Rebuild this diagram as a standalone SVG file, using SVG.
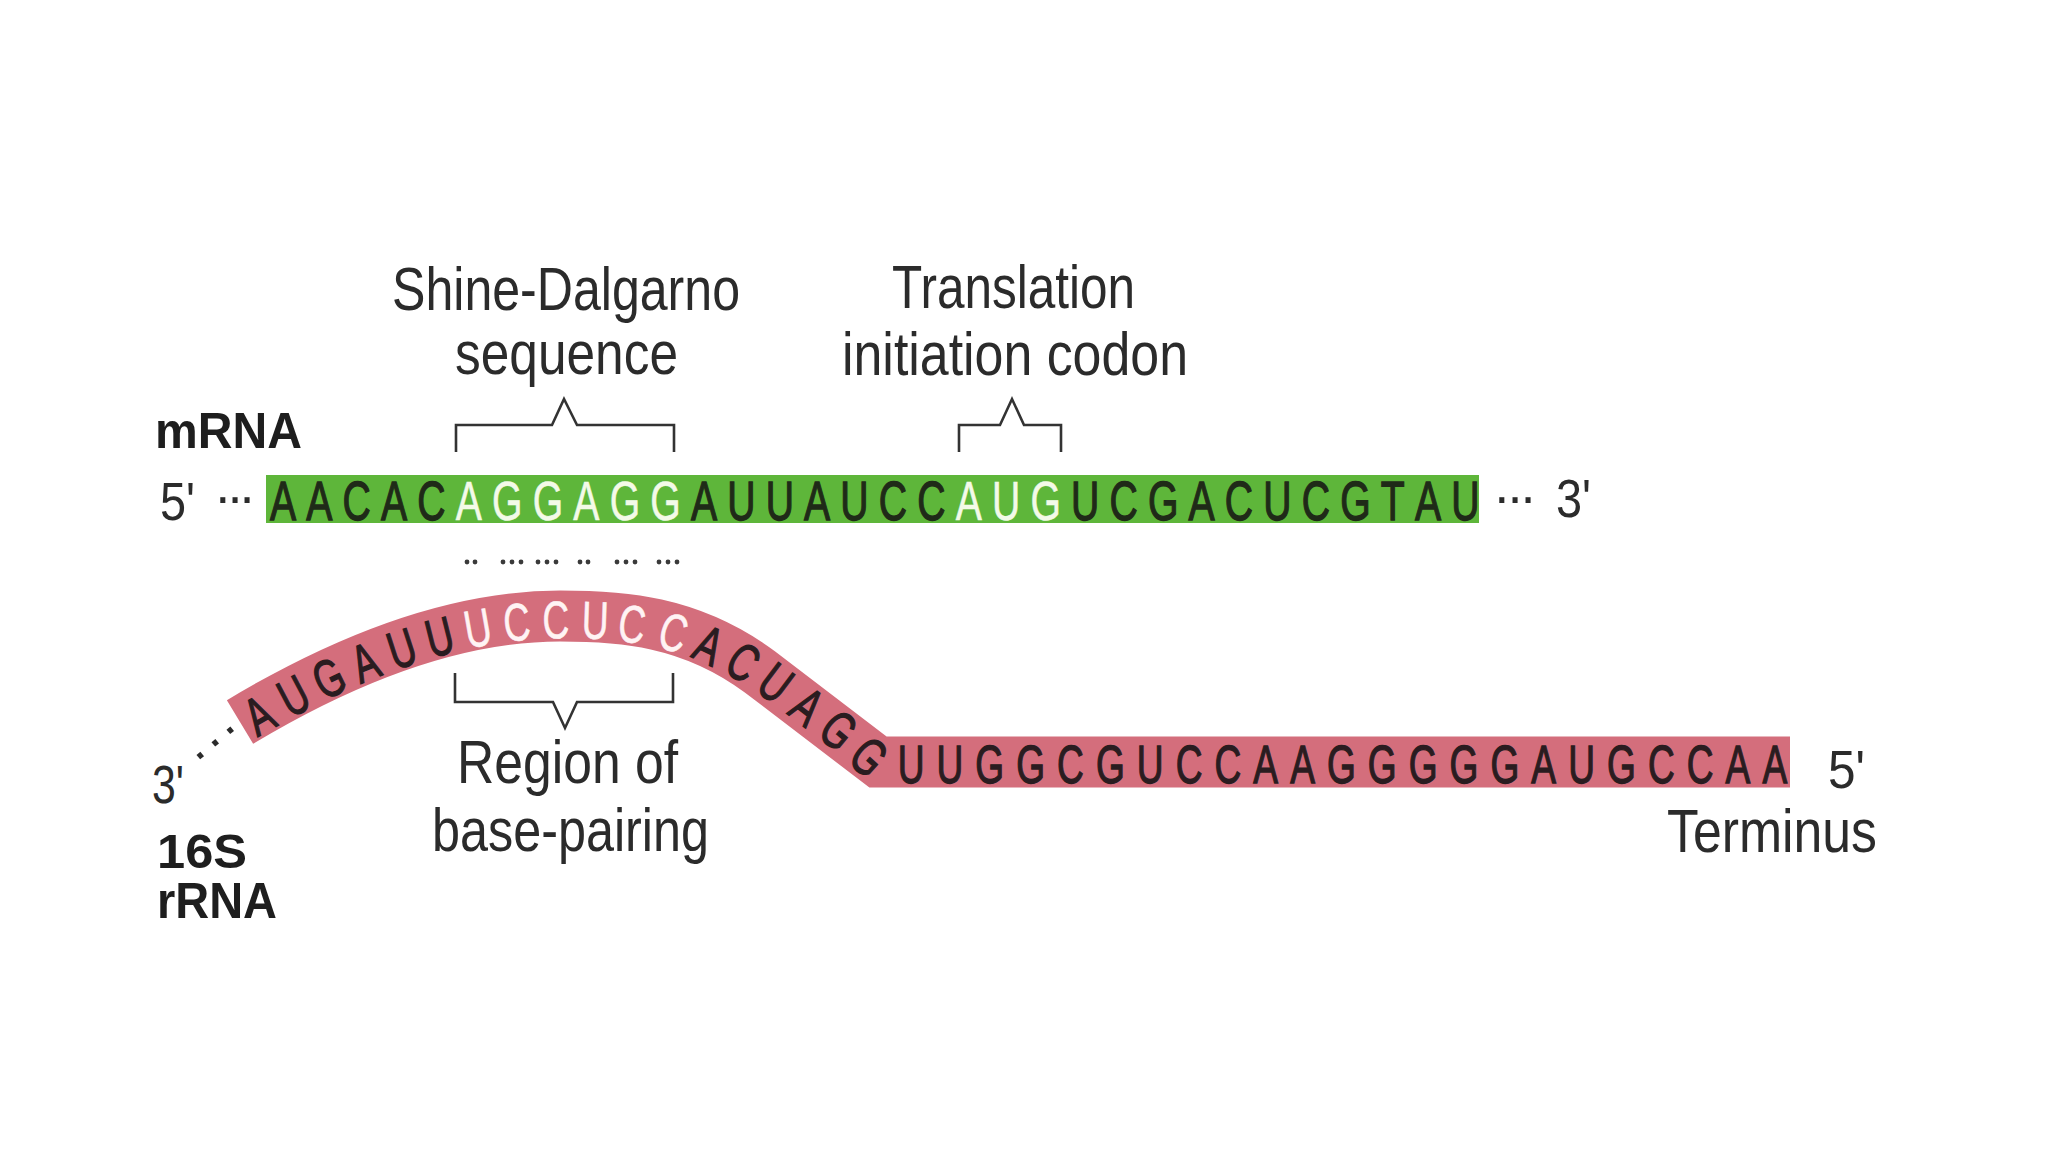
<svg xmlns="http://www.w3.org/2000/svg" width="2048" height="1152" viewBox="0 0 2048 1152">
<style>
  text { font-family: "Liberation Sans", Arial, sans-serif; fill: #2b2b2b; }
  .lbl { font-size: 61px; }
  .prime { font-size: 53px; }
  .bold { font-weight: bold; fill: #1e1e1e; }
  .seq { font-size: 56px; text-anchor: middle; fill: #1f2a18; stroke: #1f2a18; stroke-width: 1.3; }
  .seqp { font-size: 53px; text-anchor: middle; fill: #2a1c20; stroke: #2a1c20; stroke-width: 1.3; }
  .wg { fill: #f3fae8; stroke: #f3fae8; stroke-width: 0.6; }
  .wp { fill: #fff3f4; stroke: #fff3f4; stroke-width: 0.6; }
  .brk { fill: none; stroke: #333; stroke-width: 2.6; stroke-linejoin: miter; }
  .dot { fill: #3a3a3a; }
</style>
<rect width="2048" height="1152" fill="#ffffff"/>

<!-- labels -->
<g id="label-sd">
  <text class="lbl" x="392" y="310" textLength="348" lengthAdjust="spacingAndGlyphs">Shine-Dalgarno</text>
  <text class="lbl" x="455" y="374" textLength="223" lengthAdjust="spacingAndGlyphs">sequence</text>
</g>
<g id="label-tic">
  <text class="lbl" x="892" y="308" textLength="243" lengthAdjust="spacingAndGlyphs">Translation</text>
  <text class="lbl" x="842" y="375" textLength="346" lengthAdjust="spacingAndGlyphs">initiation codon</text>
</g>
<g id="label-region">
  <text class="lbl" x="457" y="783" textLength="221" lengthAdjust="spacingAndGlyphs">Region of</text>
  <text class="lbl" x="432" y="851" textLength="277" lengthAdjust="spacingAndGlyphs">base-pairing</text>
</g>
<g id="label-terminus">
  <text class="prime" x="1828" y="788" textLength="37" lengthAdjust="spacingAndGlyphs">5'</text>
  <text class="lbl" x="1667" y="852" textLength="210" lengthAdjust="spacingAndGlyphs">Terminus</text>
</g>

<!-- mRNA -->
<g id="mrna">
  <text class="bold" x="155" y="448" font-size="50" textLength="147" lengthAdjust="spacingAndGlyphs">mRNA</text>
  <text class="prime" x="160" y="520" textLength="35" lengthAdjust="spacingAndGlyphs">5'</text>
  <text class="prime" x="214" y="515" textLength="42" lengthAdjust="spacing">···</text>
  <rect x="266" y="475" width="1213" height="48" fill="#5eb63a"/>
  <text class="seq" y="520" transform="scale(0.7 1)" x="404.4 456.3 509.6 563.0 616.4 669.7 724.7 782.7 837.7 892.7 950.7 1005.7 1059.0 1114.0 1167.3 1220.7 1275.6 1330.6 1383.9 1437.3 1493.9 1550.3 1605.1 1661.7 1716.6 1770.0 1824.9 1879.9 1936.3 1989.7 2040.0 2093.3">AACAC<tspan class="wg">AGGAGG</tspan>AUUAUCC<tspan class="wg">AUG</tspan>UCGACUCGTAU</text>
  <text class="prime" x="1493" y="515" textLength="44" lengthAdjust="spacing">···</text>
  <text class="prime" x="1556" y="517" textLength="35" lengthAdjust="spacingAndGlyphs">3'</text>
</g>

<!-- 16S rRNA -->
<g id="rrna">
  <path d="M240 722 C340 662 450 616 560 616 C620 616 690 620 760 672 L878 762 L1790 762" fill="none" stroke="#d46e7c" stroke-width="51" stroke-linejoin="miter" stroke-miterlimit="10" stroke-linecap="butt"/>
  <text class="seqp" transform="translate(257.3 712.0) rotate(-30) scale(0.7 1)" y="22">A</text>
  <text class="seqp" transform="translate(292.0 692.8) rotate(-28) scale(0.7 1)" y="22">U</text>
  <text class="seqp" transform="translate(327.4 675.0) rotate(-26) scale(0.7 1)" y="22">G</text>
  <text class="seqp" transform="translate(363.7 659.0) rotate(-22) scale(0.7 1)" y="22">A</text>
  <text class="seqp" transform="translate(400.7 645.1) rotate(-18) scale(0.7 1)" y="22">U</text>
  <text class="seqp" transform="translate(438.6 633.5) rotate(-14) scale(0.7 1)" y="22">U</text>
  <text class="seqp wp" transform="translate(477.1 624.6) rotate(-10) scale(0.7 1)" y="22">U</text>
  <text class="seqp wp" transform="translate(516.3 618.6) rotate(-5) scale(0.7 1)" y="22">C</text>
  <text class="seqp wp" transform="translate(555.8 616.2) rotate(-1) scale(0.7 1)" y="22">C</text>
  <text class="seqp wp" transform="translate(595.4 616.7) rotate(2) scale(0.7 1)" y="22">U</text>
  <text class="seqp wp" transform="translate(632.7 620.6) rotate(8) scale(0.7 1)" y="22">C</text>
  <text class="seqp wp" transform="translate(674.4 629.0) rotate(16) scale(0.7 1)" y="22">C</text>
  <text class="seqp" transform="translate(710.4 641.8) rotate(25) scale(0.7 1)" y="22">A</text>
  <text class="seqp" transform="translate(745.1 659.0) rotate(33) scale(0.7 1)" y="22">C</text>
  <text class="seqp" transform="translate(778.0 680.0) rotate(37) scale(0.7 1)" y="22">U</text>
  <text class="seqp" transform="translate(809.6 703.5) rotate(38) scale(0.7 1)" y="22">A</text>
  <text class="seqp" transform="translate(841.0 727.5) rotate(40) scale(0.7 1)" y="22">G</text>
  <text class="seqp" transform="translate(871.5 754.0) rotate(42) scale(0.7 1)" y="22">G</text>
  <text class="seqp" y="783" transform="scale(0.7 1)" x="1301.6 1357.1 1414.0 1472.4 1529.3 1586.3 1643.1 1698.7 1754.1 1808.1 1860.9 1916.3 1974.7 2033.0 2091.4 2149.9 2205.3 2259.4 2316.3 2373.3 2428.7 2482.7 2535.4">UUGGCGUCCAAGGGGGAUGCCAA</text>
  <text class="prime" transform="translate(215 741) rotate(-40)" text-anchor="middle" y="16" letter-spacing="2">···</text>
  <text class="prime" x="152" y="803" textLength="32" lengthAdjust="spacingAndGlyphs">3'</text>
  <text class="bold" x="157" y="868" font-size="49" textLength="90" lengthAdjust="spacingAndGlyphs">16S</text>
  <text class="bold" x="157" y="918" font-size="50" textLength="120" lengthAdjust="spacingAndGlyphs">rRNA</text>
</g>

<!-- connectors: brackets and base-pair dots -->
<g id="connectors">
  <path class="brk" d="M456 452 V425 H552 L564 399 L577 425 H674 V452"/>
  <path class="brk" d="M959 452 V425 H1000 L1012 399 L1024 425 H1061 V452"/>
  <path class="brk" d="M455 673 V702 H553 L565 728 L577 702 H673 V673"/>
  <g id="pairing">
    <circle class="dot" cx="467" cy="562" r="2.4"/><circle class="dot" cx="475" cy="562" r="2.4"/>
    <circle class="dot" cx="503" cy="562" r="2.4"/><circle class="dot" cx="512" cy="562" r="2.4"/><circle class="dot" cx="521" cy="562" r="2.4"/>
    <circle class="dot" cx="538" cy="562" r="2.4"/><circle class="dot" cx="547" cy="562" r="2.4"/><circle class="dot" cx="556" cy="562" r="2.4"/>
    <circle class="dot" cx="580" cy="562" r="2.4"/><circle class="dot" cx="588" cy="562" r="2.4"/>
    <circle class="dot" cx="617" cy="562" r="2.4"/><circle class="dot" cx="626" cy="562" r="2.4"/><circle class="dot" cx="635" cy="562" r="2.4"/>
    <circle class="dot" cx="659" cy="562" r="2.4"/><circle class="dot" cx="668" cy="562" r="2.4"/><circle class="dot" cx="677" cy="562" r="2.4"/>
  </g>
</g>
</svg>
